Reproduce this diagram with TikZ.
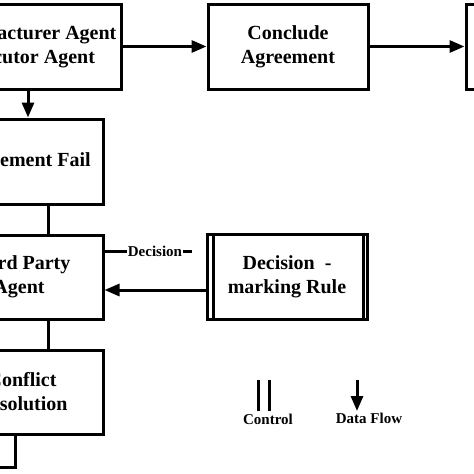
\documentclass[tikz,border=0pt]{standalone}
\usepackage{fontspec}
\setmainfont{Liberation Serif}
\usetikzlibrary{arrows.meta}
\begin{document}
\begin{tikzpicture}[x=1pt,y=-1pt,
  box/.style={draw,line width=3pt,rectangle,minimum height=85pt,align=center,inner sep=0pt,
    font=\fontsize{20}{24}\selectfont\bfseries},
  lbl/.style={font=\fontsize{15}{18}\selectfont\bfseries,inner sep=1pt},
  conn/.style={line width=3pt},
  flow/.style={line width=3pt,-{Triangle[length=15pt,width=12pt]}}]
\useasboundingbox (0,0) rectangle (474,474);
\clip (0,0) rectangle (474,474);
\node[box,minimum width=186pt] (m) at (28,46.5) {Manufacturer Agent\\Executor Agent};
\node[box,minimum width=160pt] (c) at (288,46.5) {Conclude\\Agreement};
\node[box,minimum width=100pt] (r) at (516,46.5) {};
\node[box,minimum width=157pt] (f) at (24.5,161.5) {Agreement Fail};
\node[box,minimum width=168pt,minimum height=84pt] (t) at (19,277) {Third Party\\Agent};
\node[box,minimum width=160pt] (d) at (287,276.5) {Decision\ \ -\\marking Rule};
\draw[line width=3pt] ([xshift=8pt]d.north west) -- ([xshift=8pt]d.south west);
\draw[line width=3pt] ([xshift=-5pt]d.north east) -- ([xshift=-5pt]d.south east);
\node[box,minimum width=162pt,minimum height=84pt] (k) at (22,392) {Conflict\\Resolution};
\coordinate (x48) at (48,0);
\coordinate (x15) at (15,0);
\coordinate (lowturn) at (15,467);
\coordinate (lowend) at (-10,467);
\draw[flow] (m.east) -- (c.west);
\draw[flow] (c.east) -- (r.west);
\draw[flow] (m.south) -- (m.south |- f.north);
\draw[conn] (x48 |- f.south) -- (x48 |- t.north);
\draw[conn] (x48 |- t.south) -- (x48 |- k.north);
\draw[conn] (x15 |- k.south) -- (lowturn) -- (lowend);
\node[lbl] (dl) at (155,251) {Decision};
\coordinate (dend) at (192,251);
\draw[conn] (t.east |- dl) -- (dl.west);
\draw[conn] (dl.east) -- (dend);
\coordinate (dy) at (0,290);
\draw[flow] (d.west |- dy) -- (t.east |- dy);
% legend
\coordinate (c1a) at (258,380); \coordinate (c1b) at (258,411);
\coordinate (c2a) at (269,380); \coordinate (c2b) at (269,411);
\draw[conn] (c1a) -- (c1b);
\draw[conn] (c2a) -- (c2b);
\node[lbl] (cl) at (268,419) {Control};
\coordinate (fa) at (357,380); \coordinate (fb) at (357,411);
\draw[flow] (fa) -- (fb);
\node[lbl] (fl) at (369,418) {Data Flow};
\end{tikzpicture}
\end{document}
